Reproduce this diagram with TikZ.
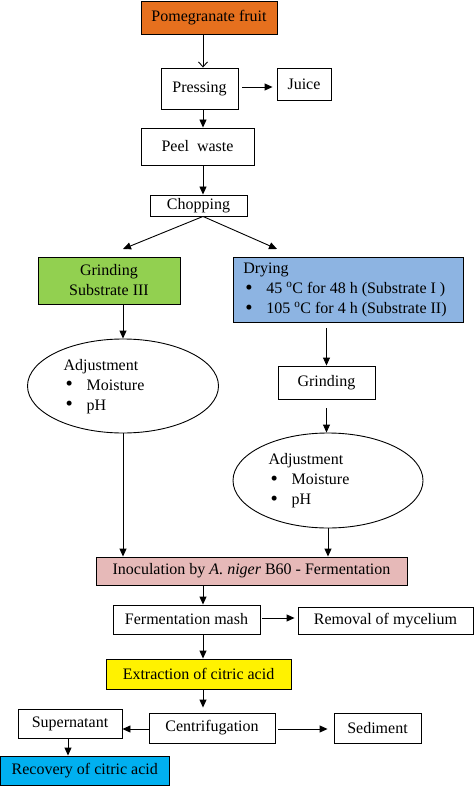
\documentclass[tikz,border=0pt]{standalone}
\usepackage{fontspec}
\setmainfont{Liberation Serif}
\usetikzlibrary{shapes.geometric,arrows.meta}

\definecolor{pomorange}{RGB}{230,112,30}
\definecolor{grindgreen}{RGB}{146,208,80}
\definecolor{dryblue}{RGB}{141,180,226}
\definecolor{inocpink}{RGB}{230,185,184}
\definecolor{recblue}{RGB}{0,176,240}

\newcommand{\bulitem}[1]{\makebox[23pt][l]{\hspace{2pt}\smash{\raisebox{-0.8pt}{\scalebox{1.3}{\textbullet}}}}#1}

\tikzset{
  box/.style={draw, line width=0.9pt, inner sep=0pt, font=\fontsize{16}{20}\selectfont},
  oval/.style={draw, ellipse, line width=0.9pt, inner sep=0pt, font=\fontsize{16}{20}\selectfont},
  arr/.style={line width=0.9pt, -{Triangle[length=8pt,width=7pt]}},
  openarr/.style={line width=0.9pt, -{Straight Barb[length=5pt,width=9pt]}}
}

\begin{document}
\begin{tikzpicture}[x=1pt,y=-1pt]
        \useasboundingbox (0,0) rectangle (474,786);
        \coordinate (spine) at (203,0);
        % Top
        \node[box, fill=pomorange, minimum width=136, minimum height=33] (pom) at (209,17.5) {Pomegranate fruit};
        \node[box, minimum width=77, minimum height=41] (press) at (199.5,88.5) {Pressing};
        \node[box, minimum width=54, minimum height=32] (juice) at (304,84) {Juice};
        \node[box, minimum width=113, minimum height=37] (peel) at (197.5,146.5) {Peel\ \ waste};
        \node[box, minimum width=97, minimum height=21] (chop) at (198.5,205.5) {Chopping};
        \draw[openarr] (pom.south -| spine) -- (press.north -| spine);
        \draw[arr, shorten <=4pt, shorten >=4pt] (press.east |- 0,87) -- (juice.west |- 0,87);
        \draw[arr] (press.south -| spine) -- (peel.north -| spine);
        \draw[arr] (peel.south -| spine) -- (chop.north -| spine);
        % Branches
        \coordinate (leftend) at (123,249);
        \coordinate (rightend) at (277,249);
        \draw[arr] (chop.south -| spine) -- (leftend);
        \draw[arr] (chop.south -| spine) -- (rightend);
        % Left branch
        \node[box, fill=grindgreen, minimum width=142, minimum height=47, align=center] (grind3) at (109,280.5) {Grinding\\Substrate III};
        \node[oval, minimum width=191, minimum height=94] (adj1) at (123,386)
          {\begin{tabular}{@{}l@{\hspace{38pt}}}Adjustment\\\bulitem{Moisture}\\\bulitem{pH}\end{tabular}};
        \draw[arr] (adj1.north |- grind3.south) -- (adj1.north);
        % Right branch
        \node[box, fill=dryblue, minimum width=230, minimum height=65] (dry) at (348,289.5)
          {\begin{tabular}{@{}l@{\hspace{6pt}}}Drying\\\bulitem{45 \textsuperscript{o}C for 48 h (Substrate I )}\\\bulitem{105 \textsuperscript{o}C for 4 h (Substrate II)}\end{tabular}};
        \node[box, minimum width=97, minimum height=33] (grind) at (326.5,382.5) {Grinding};
        \node[oval, minimum width=190, minimum height=95] (adj2) at (328,480.5)
          {\begin{tabular}{@{}l@{\hspace{38pt}}}Adjustment\\\bulitem{Moisture}\\\bulitem{pH}\end{tabular}};
        \draw[arr, shorten <=6pt] (grind.north |- dry.south) -- (grind.north);
        \draw[arr, shorten <=9pt] (grind.south) -- (grind.south |- adj2.north);
        % Fermentation
        \node[box, fill=inocpink, minimum width=311, minimum height=28] (inoc) at (251.5,571) {Inoculation by \textit{A. niger} B60 - Fermentation};
        \draw[arr] (adj1.south) -- (adj1.south |- inoc.north);
        \draw[arr] (adj2.south) -- (adj2.south |- inoc.north);
        \node[box, minimum width=147, minimum height=29] (mash) at (186.5,619.5) {Fermentation mash};
        \node[box, minimum width=175, minimum height=27] (myc) at (385.5,620.5) {Removal of mycelium};
        \draw[arr] (inoc.south -| spine) -- (mash.north -| spine);
        \draw[arr, shorten <=2pt, shorten >=3pt] (mash.east |- 0,618) -- (myc.west |- 0,618);
        % Extraction
        \node[box, fill=yellow, minimum width=185, minimum height=30] (extr) at (198.5,674) {Extraction of citric acid};
        \draw[arr] (mash.south -| spine) -- (extr.north -| spine);
        \node[box, minimum width=126, minimum height=30] (cent) at (212,728) {Centrifugation};
        \node[box, minimum width=104, minimum height=29] (super) at (70,723.5) {Supernatant};
        \node[box, minimum width=87, minimum height=30] (sed) at (377.5,728) {Sediment};
        \node[box, fill=recblue, minimum width=168.5, minimum height=29.5] (rec) at (84.75,770.75) {Recovery of citric acid};
        \draw[arr, shorten >=5pt] (extr.south -| spine) -- (cent.north -| spine);
        \draw[arr] (cent.west |- 0,729) -- (super.east |- 0,729);
        \draw[arr, shorten <=3pt, shorten >=6pt] (cent.east |- 0,729) -- (sed.west |- 0,729);
        \draw[arr] (super.south -| 68,0) -- (rec.north -| 68,0);
\end{tikzpicture}
\end{document}
